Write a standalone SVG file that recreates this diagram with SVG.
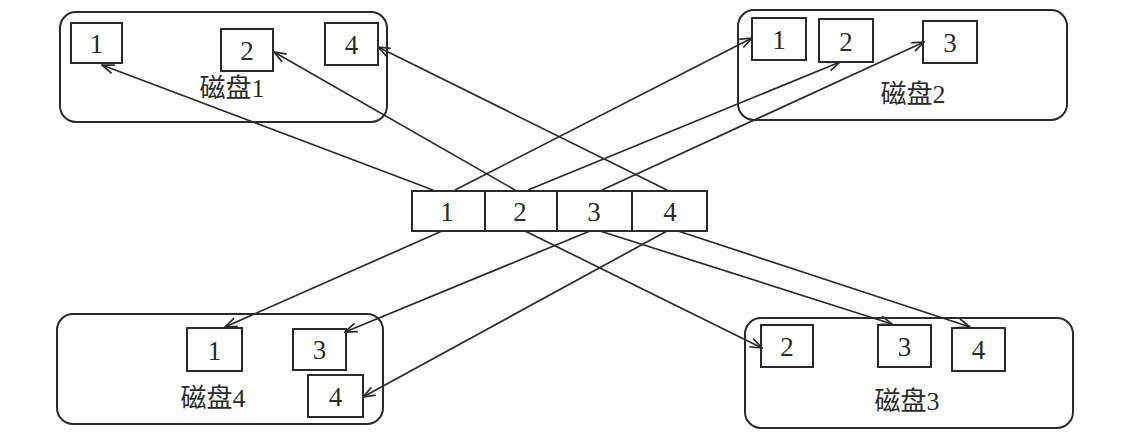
<svg xmlns="http://www.w3.org/2000/svg" width="1135" height="437" viewBox="0 0 1135 437">
<style>
.disk{fill:none;stroke:#2a2a2a;stroke-width:2}
.box{fill:#fff;stroke:#2a2a2a;stroke-width:2}
.num{font-family:"Liberation Serif","Noto Serif",serif;font-size:27px;fill:#2a2a2a;text-anchor:middle}
.lbl{font-family:"Liberation Serif","Noto Sans CJK SC",serif;font-size:26px;fill:#2a2a2a;text-anchor:middle}
.conn line{stroke:#2a2a2a;stroke-width:1.7;fill:none;marker-end:url(#arr)}
</style>
<defs>
<marker id="arr" markerUnits="userSpaceOnUse" markerWidth="14" markerHeight="12" viewBox="0 0 14 12" refX="13" refY="6" orient="auto">
<path d="M1,1.5 L13,6 L1,10.5" fill="none" stroke="#2a2a2a" stroke-width="1.7"/>
</marker>
</defs>
<rect width="1135" height="437" fill="#fff"/>
<g id="disk1">
<rect class="disk" x="60" y="12" width="327" height="110" rx="16"/>
<rect class="box" x="71" y="23" width="51" height="40"/><text class="num" x="96.5" y="53">1</text>
<rect class="box" x="221" y="29" width="52" height="42"/><text class="num" x="247" y="60">2</text>
<rect class="box" x="325" y="23" width="53" height="42"/><text class="num" x="351.5" y="54">4</text>
<text class="lbl" x="232" y="97">磁盘1</text>
</g>
<g id="disk2">
<rect class="disk" x="738" y="10" width="329" height="110" rx="16"/>
<rect class="box" x="752" y="18" width="54" height="42"/><text class="num" x="779" y="49">1</text>
<rect class="box" x="819" y="19" width="54" height="43"/><text class="num" x="846" y="51">2</text>
<rect class="box" x="923" y="21" width="54" height="42"/><text class="num" x="950" y="52">3</text>
<text class="lbl" x="913" y="103">磁盘2</text>
</g>
<g id="stripe">
<rect class="box" x="412" y="191" width="295" height="40"/>
<line x1="485" y1="191" x2="485" y2="231" stroke="#2a2a2a" stroke-width="2"/>
<line x1="557" y1="191" x2="557" y2="231" stroke="#2a2a2a" stroke-width="2"/>
<line x1="632" y1="191" x2="632" y2="231" stroke="#2a2a2a" stroke-width="2"/>
<text class="num" x="447" y="221">1</text>
<text class="num" x="520" y="221">2</text>
<text class="num" x="594" y="221">3</text>
<text class="num" x="670" y="221">4</text>
</g>
<g id="disk4">
<rect class="disk" x="57" y="314" width="326" height="110" rx="16"/>
<rect class="box" x="187" y="328" width="55" height="43"/><text class="num" x="214.5" y="360">1</text>
<rect class="box" x="293" y="329" width="53" height="41"/><text class="num" x="319.5" y="359">3</text>
<rect class="box" x="308" y="375" width="55" height="42"/><text class="num" x="335.5" y="406">4</text>
<text class="lbl" x="213" y="407">磁盘4</text>
</g>
<g id="disk3">
<rect class="disk" x="745" y="318" width="328" height="110" rx="16"/>
<rect class="box" x="761" y="325" width="52" height="42"/><text class="num" x="787" y="356">2</text>
<rect class="box" x="878" y="325" width="53" height="42"/><text class="num" x="904.5" y="356">3</text>
<rect class="box" x="952" y="328" width="53" height="43"/><text class="num" x="978.5" y="359">4</text>
<text class="lbl" x="907" y="410">磁盘3</text>
</g>
<g id="connectors" class="conn">
<line x1="433" y1="190" x2="102" y2="65"/>
<line x1="515" y1="190" x2="274" y2="52"/>
<line x1="667" y1="190" x2="378" y2="47"/>
<line x1="455" y1="190" x2="752" y2="38"/>
<line x1="528" y1="190" x2="840" y2="62"/>
<line x1="602" y1="190" x2="924" y2="42"/>
<line x1="442" y1="231" x2="225" y2="327"/>
<line x1="590" y1="231" x2="345" y2="332"/>
<line x1="667" y1="231" x2="363" y2="397"/>
<line x1="525" y1="231" x2="762" y2="348"/>
<line x1="600" y1="231" x2="892" y2="324"/>
<line x1="678" y1="231" x2="970" y2="327"/>
</g>
</svg>
